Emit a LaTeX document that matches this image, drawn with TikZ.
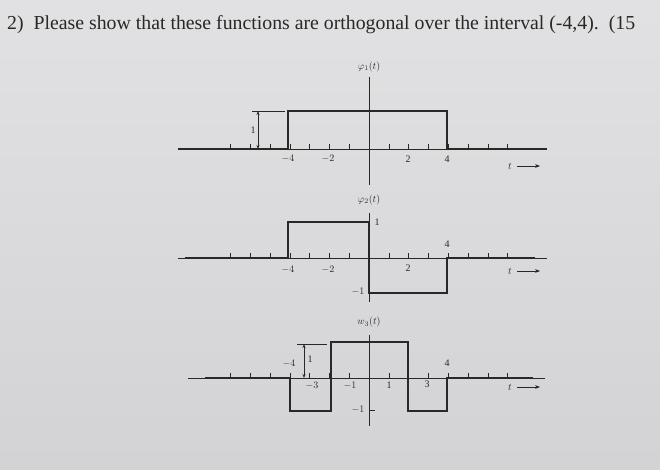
\documentclass[tikz,border=0pt]{standalone}
\usepackage{fontspec}
\setmainfont{Liberation Serif}
\usetikzlibrary{arrows.meta}
\definecolor{paper}{RGB}{222,222,224}
\definecolor{ink}{RGB}{40,40,40}
\tikzset{sig/.style={ink,line width=1.5pt},ax/.style={ink,line width=0.7pt},
tk/.style={ink,line width=0.6pt},lab/.style={font=\fontsize{10}{11}\selectfont,text=ink,inner sep=1pt},
dim/.style={ink,line width=0.6pt,{Stealth[length=4pt,width=3pt]}-{Stealth[length=4pt,width=3pt]}}}
\begin{document}
\begin{tikzpicture}[x=1pt,y=-1pt]
\shade[top color=paper!90!white,bottom color=paper!95!black] (0,0) rectangle (660,470);
\useasboundingbox (0,0) rectangle (660,470);
\node[anchor=west,text=ink,font=\fontsize{19.8}{22}\selectfont,inner sep=0pt] (title) at (7,25) {2)\ \ Please show that these functions are orthogonal over the interval (-4,4).\ \ (15};
% ---- plot 1
\begin{scope}[shift={(0,149)}]
\draw[ax] (178,0) -- (547,0);
\draw[ax] (369,-72) -- (369,36);
\foreach \i in {-7,...,-1,1,2,...,7} \draw[tk] (369+19.8*\i,0) -- (369+19.8*\i,-5);
\draw[sig] (178,0) -- (288,0) -- (288,-38) -- (447,-38) -- (447,0) -- (547,0);
\draw[tk] (252,-38) -- (285,-38);
\draw[dim] (258,-38) -- (258,0);
\node[lab] (p1one) at (253,-19) {1};
\node[lab] (p1name) at (369,-82) {$\varphi_1(t)$};
\node[lab] (p1a) at (288,10) {$-4$};
\node[lab] (p1b) at (328,10) {$-2$};
\node[lab] (p1c) at (408,10) {2};
\node[lab] (p1d) at (447,10) {4};
\node[lab] (p1t) at (510,17) {$t$};
\draw[ax,-{Stealth[length=5pt]}] (517,17) -- (540,17);
\end{scope}
% ---- plot 2
\begin{scope}[shift={(0,258)}]
\draw[ax] (178,0) -- (547,0);
\draw[ax] (369,-45) -- (369,44);
\foreach \i in {-7,...,-1,1,2,...,7} \draw[tk] (369+19.8*\i,0) -- (369+19.8*\i,-5);
\draw[sig] (185,0) -- (288,0) -- (288,-36) -- (369,-36) -- (369,35) -- (447,35) -- (447,0) -- (535,0);
\node[lab] (p2one) at (377,-36) {1};
\node[lab] (p2m) at (358,34) {$-1$};
\node[lab] (p2name) at (369,-58) {$\varphi_2(t)$};
\node[lab] (p2a) at (288,12) {$-4$};
\node[lab] (p2b) at (328,12) {$-2$};
\node[lab] (p2c) at (408,10) {2};
\node[lab] (p2d) at (447,-14) {4};
\node[lab] (p2t) at (510,13) {$t$};
\draw[ax,-{Stealth[length=5pt]}] (517,13) -- (540,13);
\end{scope}
% ---- plot 3
\begin{scope}[shift={(0,378)}]
\draw[ax] (188,0) -- (545,0);
\draw[ax] (369,-43) -- (369,48);
\foreach \i in {-7,...,-1,1,2,...,7} \draw[tk] (369+19.8*\i,0) -- (369+19.8*\i,-5);
\draw[sig] (205,0) -- (290,0) -- (290,33) -- (331,33) -- (331,-36) -- (408,-36) -- (408,33) -- (447,33) -- (447,0) -- (533,0);
\draw[tk] (297,-34) -- (327,-34);
\draw[dim] (304,-34) -- (304,0);
\node[lab] (p3one) at (310,-19) {1};
\draw[tk] (369,32) -- (375,32);
\node[lab] (p3m) at (358,32) {$-1$};
\node[lab] (p3name) at (369,-56) {$w_3(t)$};
\node[lab] (p3e) at (289,-14) {$-4$};
\node[lab] (p3f) at (447,-15) {4};
\node[lab] (p3a) at (312,8) {$-3$};
\node[lab] (p3b) at (350,8) {$-1$};
\node[lab] (p3c) at (389,7) {1};
\node[lab] (p3d) at (427,6) {3};
\node[lab] (p3t) at (510,9) {$t$};
\draw[ax,-{Stealth[length=5pt]}] (517,9) -- (540,9);
\end{scope}
\end{tikzpicture}
\end{document}
